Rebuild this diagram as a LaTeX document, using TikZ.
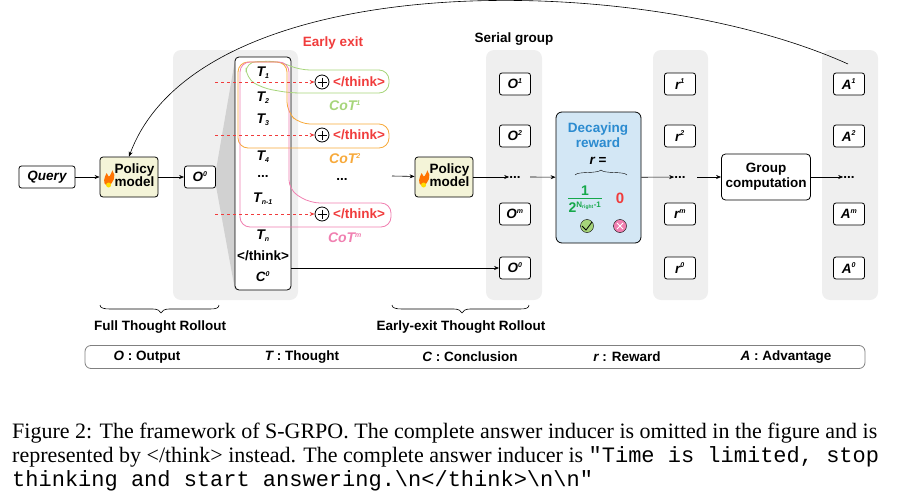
\documentclass[tikz,border=0pt]{standalone}
\usepackage{fontspec}
\setmainfont{Liberation Serif}
\setsansfont{Liberation Sans}
\newfontfamily\monof{Liberation Mono}
\usetikzlibrary{arrows.meta,calc}
\definecolor{panel}{HTML}{EFEFEF}
\definecolor{polfill}{HTML}{F4F4D8}
\definecolor{rewfill}{HTML}{D3E7F5}
\definecolor{rewblue}{HTML}{2B8BD0}
\definecolor{exred}{HTML}{F03C3C}
\definecolor{cgreen}{HTML}{A6D57A}
\definecolor{corange}{HTML}{F7A93A}
\definecolor{cpink}{HTML}{F07FB0}
\definecolor{fgreen}{HTML}{15A84A}
\begin{document}
\begin{tikzpicture}[x=1pt,y=-1pt,
  every node/.style={font=\sffamily\bfseries\fontsize{13.5}{15}\selectfont,inner sep=0pt},
  bx/.style={draw,thick,rounded corners=2.5pt,fill=white,minimum width=31pt,minimum height=22pt},
  pol/.style={draw,thick,rounded corners=3pt,fill=polfill,minimum width=58pt,minimum height=40pt},
  pan/.style={fill=panel,rounded corners=8pt},
  arr/.style={-{Stealth[length=5pt,width=4pt]},semithick},
  exarr/.style={-{Stealth[length=5pt,width=4pt]},exred,dashed,semithick},
  loop/.style={rounded corners=10pt,thick}]
\useasboundingbox (0,0) rectangle (911,498);
% panels
\fill[pan] (173,50) rectangle (298,300);
\fill[pan] (486,50) rectangle (542,300);
\fill[pan] (653,50) rectangle (708,300);
\fill[pan] (822,50) rectangle (878,300);
\fill[black!18] (216,170) -- (235,60) -- (235,290) -- (216,186) -- cycle;
% left chain
\node[bx,minimum width=56pt] (q) at (47,177) {\itshape Query};
\node[pol] (p1) at (129,177) {\hspace{11pt}\begin{tabular}{@{}c@{}}Policy\\[-2pt]model\end{tabular}};
\node[bx] (o0) at (200,177) {\itshape O\textsuperscript{\scriptsize 0}};
\draw[arr] (q) -- (p1);
\draw[arr] (p1) -- (o0);
% tall box
\node[draw,thick,rounded corners=4pt,fill=white,minimum width=56pt,minimum height=233pt] (tb) at (263,173.5) {};
\foreach \y/\t in {73/T\textsubscript{\scriptsize 1},98/T\textsubscript{\scriptsize 2},120/T\textsubscript{\scriptsize 3},157/T\textsubscript{\scriptsize 4},199/T\textsubscript{\scriptsize n-1},236/T\textsubscript{\scriptsize n}}
  \node at (263,\y) {\itshape\fontsize{14}{14}\selectfont \t};
\node (td) at (263,176) {...};
\node (th) at (263,256) {</think>};
\node (c0) at (263,277) {\itshape C\textsuperscript{\scriptsize 0}};
% loops
\draw[loop,cgreen] (290,93) -- (389,93) -- (389,70) -- (300,70) -- (278,61) -- (246,62) -- (246,78) -- (262,88) -- cycle;
\draw[loop,corange] (238,62) -- (287,62) -- (287,112) -- (300,124) -- (389,124) -- (389,148) -- (238,148) -- cycle;
\draw[loop,cpink] (240,62) -- (289,62) -- (289,190) -- (310,203) -- (391,203) -- (391,227) -- (240,227) -- cycle;
% early exits
\node[text=exred] (ee) at (333,43) {Early exit};
\foreach \y/\n in {82/a,135/b,214/c}{
  \coordinate (s\n) at (215,\y);
  \node[draw,circle,thick,minimum size=14pt,fill=white] (pl\n) at (322,\y) {};
  \draw[thick] ($(pl\n)+(-4.5,0)$) -- ($(pl\n)+(4.5,0)$) ($(pl\n)+(0,-4.5)$) -- ($(pl\n)+(0,4.5)$);
  \node[text=exred,anchor=west] (tk\n) at (333,\y) {</think>};
  \draw[exarr] (s\n) -- (pl\n);
}
\node[text=cgreen] at (345,106) {\itshape\fontsize{14}{14}\selectfont CoT\textsuperscript{\scriptsize 1}};
\node[text=corange] at (345,159) {\itshape\fontsize{14}{14}\selectfont CoT\textsuperscript{\scriptsize 2}};
\node[text=cpink] at (345,238) {\itshape\fontsize{14}{14}\selectfont CoT\textsuperscript{\scriptsize m}};
\node (md) at (342,179) {...};
% policy 2
\node[pol] (p2) at (444,177) {\hspace{11pt}\begin{tabular}{@{}c@{}}Policy\\[-2pt]model\end{tabular}};
\coordinate (pin) at (392,176);
\draw[arr] (pin) -- (p2);
% flames
\foreach \p in {p1,p2}{
  \fill[orange!90!red] ($(\p.west)+(8,9)$) .. controls +(-6,-2) and +(-2,4) .. ($(\p.west)+(7,-4)$) .. controls +(2,3) and +(-1,2) .. ($(\p.west)+(10,-1)$) .. controls +(2,-2) and +(0,-3) .. ($(\p.west)+(13,-6)$) .. controls +(4,4) and +(6,-2) .. cycle;
  \fill[yellow!80!orange] ($(\p.west)+(9,8)$) circle (2.5pt);
}
% serial group
\node at (514,39) {Serial group};
\foreach \y/\s/\n in {84/1/1,136/2/2,214/m/m,268/0/0}
  \node[bx] (o\n) at (515,\y) {\itshape O\textsuperscript{\scriptsize \s}};
\node (od) at (515,177) {...};
\draw[arr] (p2) -- (od);
\coordinate (cs) at (291,268);
\draw[arr] (cs) -- (o0);
% decaying reward
\node[draw,thick,rounded corners=6pt,fill=rewfill,minimum width=85pt,minimum height=131pt] (dr) at (598.5,177.5) {};
\node[text=rewblue,align=center] at (598,135) {Decaying\\reward};
\node at (598,161) {\itshape r \upshape=};
\draw[thin] (575,175) .. controls (578,171) and (597,174) .. (601,170) .. controls (604,174) and (624,171) .. (627,175);
\node[text=fgreen] (fr1) at (585,191) {\fontsize{14}{14}\selectfont 1};
\draw[fgreen,thick] (568,198) -- (602,198);
\node[text=fgreen] (fr2) at (585,207) {\fontsize{14}{14}\selectfont 2\textsuperscript{\fontsize{8}{8}\selectfont N\textsubscript{\fontsize{5}{5}\selectfont right}-1}};
\node[text=exred] at (620,198) {\fontsize{15}{15}\selectfont 0};
\node[draw,circle,fill=cgreen,minimum size=13pt] (ck) at (587,226) {};
\draw[thick] (582,226) -- (586,230) -- (592,222);
\node[draw,circle,fill=cpink,minimum size=13pt] (cx) at (620,226) {};
\draw[thick,white] (617,223) -- (623,229) (623,223) -- (617,229);
\coordinate (odr) at (530,177);
\draw[arr] (odr) -- (dr);
% r column
\foreach \y/\s/\n in {84/1/1,136/2/2,214/m/m,268/0/0}
  \node[bx] (r\n) at (680,\y) {\itshape r\textsuperscript{\scriptsize \s}};
\node (rd) at (680,177) {...};
\draw[arr] (dr) -- (rd);
\node[draw,thick,rounded corners=4pt,fill=white,minimum width=89pt,minimum height=46pt,align=center] (gc) at (766,177) {Group\\computation};
\coordinate (rdr) at (697,177);
\draw[arr] (rdr) -- (gc);
% A column
\foreach \y/\s/\n in {84/1/1,136/2/2,214/m/m,268/0/0}
  \node[bx] (a\n) at (849,\y) {\itshape A\textsuperscript{\scriptsize \s}};
\node (ad) at (849,177) {...};
\draw[arr] (gc) -- (ad);
% feedback
\coordinate (fb) at (848,64);
\draw[arr] (fb) .. controls (640,-30) and (200,-35) .. (p1.north);
% braces
\draw[semithick] (100,305) .. controls (100,308) and (104,309) .. (110,309) -- (153,309) .. controls (158,309) and (160,311) .. (161,313) .. controls (162,311) and (164,309) .. (169,309) -- (210,309) .. controls (216,309) and (219,308) .. (219,305);
\draw[semithick] (392,305) .. controls (392,308) and (396,309) .. (402,309) -- (454,309) .. controls (459,309) and (461,311) .. (462,313) .. controls (463,311) and (465,309) .. (470,309) -- (520,309) .. controls (526,309) and (529,308) .. (529,305);
\node at (160,327) {Full Thought Rollout};
\node at (461,327) {Early-exit Thought Rollout};
% legend
\node[draw,thick,gray,rounded corners=6pt,minimum width=780pt,minimum height=23pt] (leg) at (475,357) {};
\node at (147,357) {\itshape O\upshape\ : Output};
\node at (302,357) {\itshape T\upshape\ : Thought};
\node at (470,357) {\itshape C\upshape\ : Conclusion};
\node at (627,357) {\itshape r\upshape\ : Reward};
\node at (786,357) {\itshape A\upshape\ : Advantage};
% caption
\begin{scope}[every node/.style={anchor=west,inner sep=0pt,font=\rmfamily\fontsize{22}{24}\selectfont}]
\node at (12,433) {Figure 2: The framework of S-GRPO. The complete answer inducer is omitted in the figure and is};
\node at (12,457) {represented by </think> instead. The complete answer inducer is {\monof "Time is limited, stop}};
\node at (12,481) {\monof thinking and start answering.\textbackslash n</think>\textbackslash n\textbackslash n"};
\end{scope}
\end{tikzpicture}
\end{document}
